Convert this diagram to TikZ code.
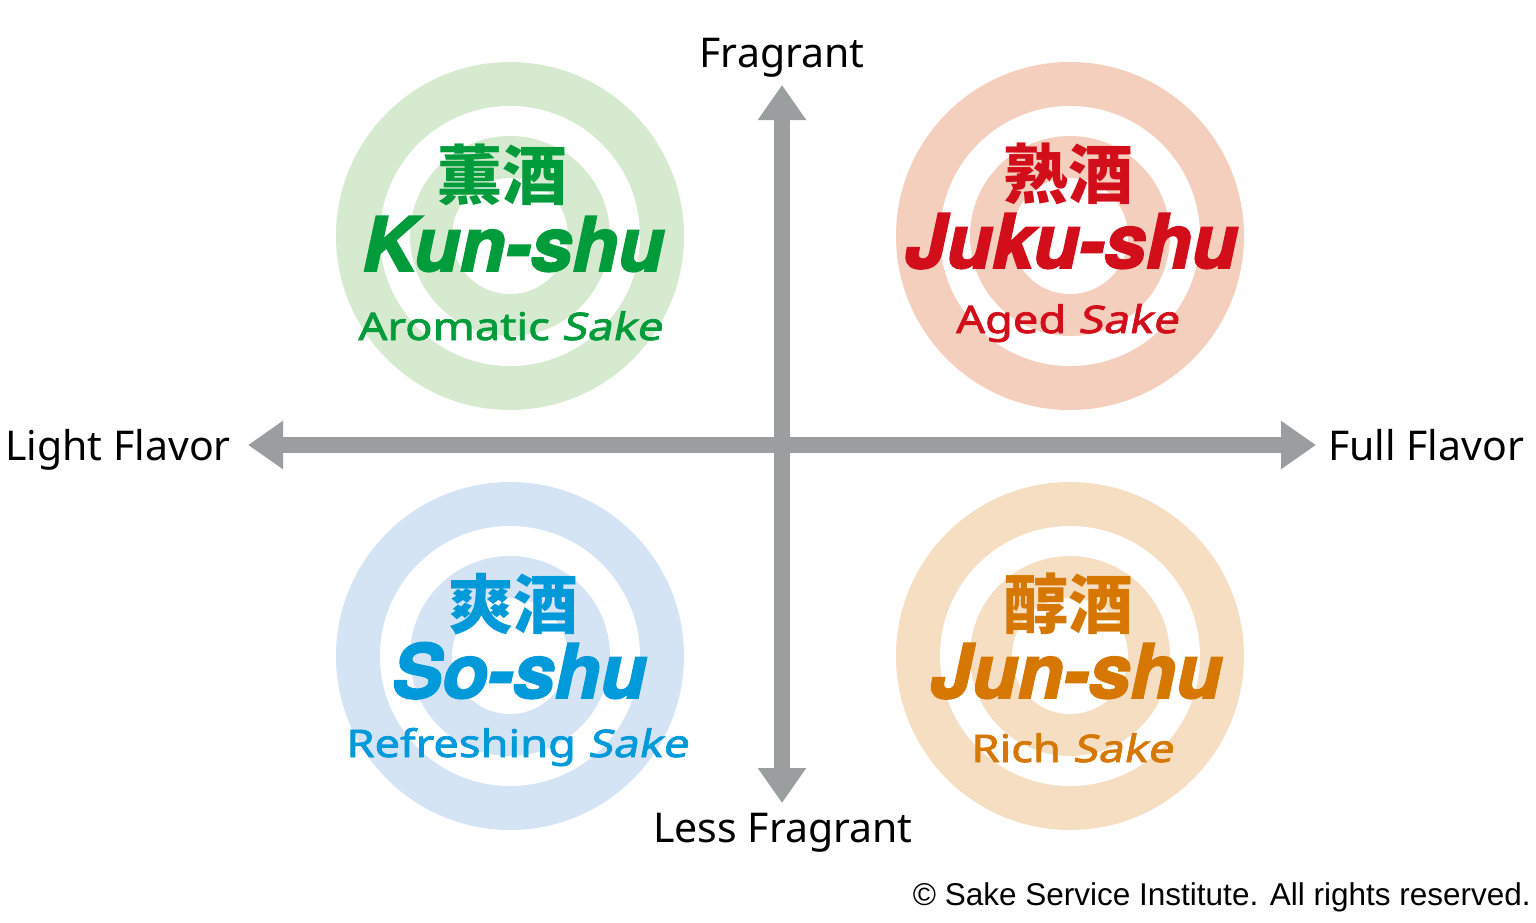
\documentclass[tikz,border=0pt]{standalone}
\usepackage{fontspec}
\setmainfont{Noto Sans}
\newfontfamily\cjkf{Noto Sans CJK JP}
\newfontfamily\heavyf{TeX Gyre Heros}[FakeBold=2.5]
\newfontfamily\subf{Noto Sans}[FakeStretch=1.19,FakeBold=2]
\newfontfamily\subfi{Noto Sans}[FakeStretch=1.19,FakeBold=2,FakeSlant=0.2]
\newfontfamily\copyf{Liberation Sans}
\usetikzlibrary{arrows.meta}
\definecolor{axisgray}{HTML}{9B9E9F}
\definecolor{kunT}{HTML}{009B3A}
\definecolor{kunR}{HTML}{D6EAD0}
\definecolor{jukuT}{HTML}{D20E1B}
\definecolor{jukuR}{HTML}{F4CFBE}
\definecolor{soT}{HTML}{0099D9}
\definecolor{soR}{HTML}{D4E4F5}
\definecolor{junT}{HTML}{D57700}
\definecolor{junR}{HTML}{F6DEC3}
\begin{document}
\begin{tikzpicture}[x=1pt,y=-1pt,
  axislabel/.style={inner sep=0pt, anchor=base, font=\fontsize{41}{41}\selectfont},
  kanji/.style={inner sep=0pt, anchor=base, font=\cjkf\bfseries\fontsize{65}{65}\selectfont},
  romaji/.style={inner sep=0pt, anchor=base, font=\heavyf\bfseries\itshape\fontsize{75}{75}\selectfont},
  subtitle/.style={inner sep=0pt, anchor=base, font=\subf\fontsize{38}{38}\selectfont},
  axisline/.style={draw=axisgray, line width=16pt, {Triangle[length=35pt,width=46pt]}-{Triangle[length=35pt,width=46pt]}},
]
\useasboundingbox (0,0) rectangle (1536,922);
\fill[white] (0,0) rectangle (1536,922);
% target rings
\foreach \cx/\cy/\col in {510/236/kunR, 1070/236/jukuR, 510/656/soR, 1070/656/junR}{
  \fill[\col] (\cx,\cy) circle[radius=174];
  \fill[white] (\cx,\cy) circle[radius=130];
  \fill[\col] (\cx,\cy) circle[radius=100];
  \fill[white] (\cx,\cy) circle[radius=58];
}
% axes
\coordinate (L) at (248,445);
\coordinate (R) at (1316,445);
\coordinate (T) at (782,85);
\coordinate (B) at (782,803);
\draw[axisline] (L) -- (R);
\draw[axisline] (B) -- (T);
% axis labels
\node[axislabel] (fragrant) at (782,67) {Fragrant};
\node[axislabel, anchor=base east] (light) at (231,460) {Light Flavor};
\node[axislabel, anchor=base west] (full) at (1328,460) {Full Flavor};
\node[axislabel] (less) at (783,842) {Less Fragrant};
\node[inner sep=0pt, anchor=base east, font=\copyf\fontsize{31.5}{31.5}\selectfont] (copy) at (1531,905) {© Sake Service Institute. All rights reserved.};
% Kun-shu
\node[kanji, text=kunT] (kunKanji) at (502,199) {薫酒};
\node[romaji, text=kunT] (kunRomaji) at (513,271) {Kun-shu};
\node[subtitle, text=kunT] (kunSub) at (510,340) {Aromatic {\subfi Sake}};
% Juku-shu
\node[kanji, text=jukuT] (jukuKanji) at (1068,198) {熟酒};
\node[romaji, text=jukuT] (jukuRomaji) at (1071,268) {Juku-shu};
\node[subtitle, text=jukuT] (jukuSub) at (1067,333) {Aged {\subfi Sake}};
% So-shu
\node[kanji, text=soT] (soKanji) at (513,628) {爽酒};
\node[romaji, text=soT] (soRomaji) at (519,698) {So-shu};
\node[subtitle, text=soT] (soSub) at (517,757) {Refreshing {\subfi Sake}};
% Jun-shu
\node[kanji, text=junT] (junKanji) at (1068,628) {醇酒};
\node[romaji, text=junT] (junRomaji) at (1076,698) {Jun-shu};
\node[subtitle, text=junT] (junSub) at (1072,762) {Rich {\subfi Sake}};
\end{tikzpicture}
\end{document}
